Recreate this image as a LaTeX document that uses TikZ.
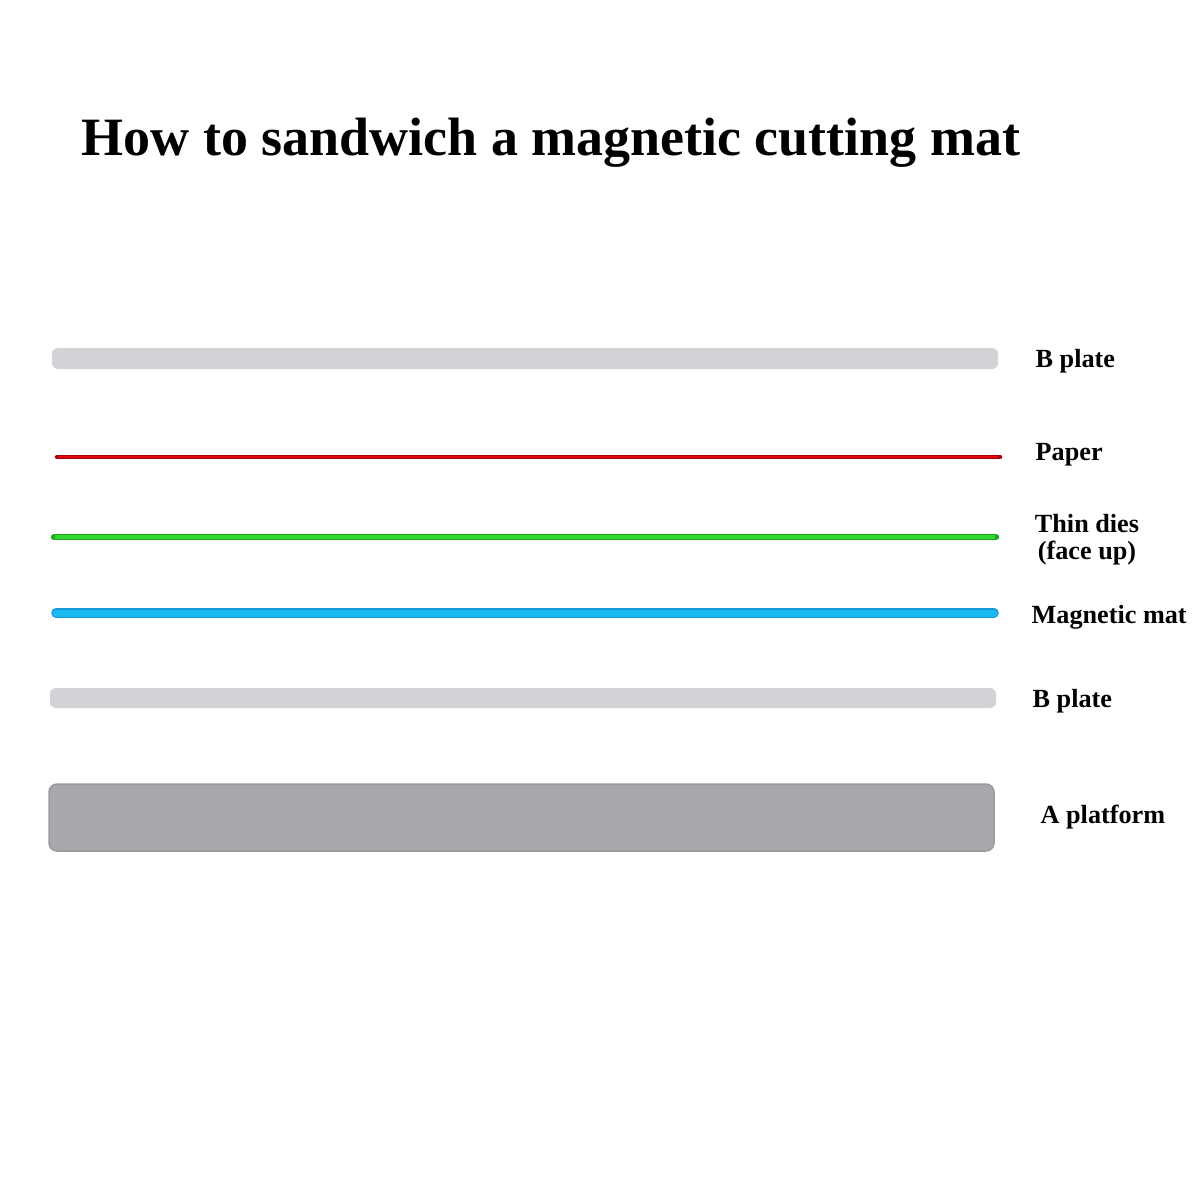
\documentclass[tikz,border=0pt]{standalone}
\usepackage{fontspec}
\setmainfont{Liberation Serif}
\definecolor{bplate}{HTML}{D3D3D7}
\definecolor{aplat}{HTML}{A9A9AD}
\definecolor{aplatedge}{HTML}{9A9A9E}
\definecolor{paperdark}{HTML}{A8000E}
\definecolor{paperred}{HTML}{DD0A14}
\definecolor{diedark}{HTML}{1FA81F}
\definecolor{diegreen}{HTML}{33D633}
\definecolor{matdark}{HTML}{1598D6}
\definecolor{matblue}{HTML}{1CB8F2}
\tikzset{
  lbl/.style={anchor=base west, inner sep=0pt, font=\fontsize{7.45pt}{8.5pt}\selectfont\bfseries},
  ttl/.style={anchor=base, inner sep=0pt, font=\fontsize{15.35pt}{17pt}\selectfont\bfseries},
}
\begin{document}
\begin{tikzpicture}[x=0.01cm,y=-0.01cm]
\fill[white] (0,0) rectangle (1200,1200);
\useasboundingbox (0,0) rectangle (1200,1200);
\node[ttl] (title) at (551,155) {How to sandwich a magnetic cutting mat};
% B plate top
\fill[bplate, rounded corners=1.7pt] (52,348) rectangle (998,369);
% Paper
\draw[paperdark, line width=4.5*0.2845pt, line cap=round] (57,457) -- (1000,457);
\draw[paperred, line width=2*0.2845pt] (58,457) -- (999,457);
% Thin dies
\draw[diedark, line width=6.5*0.2845pt, line cap=round] (54,537) -- (996,537);
\draw[diegreen, line width=3.5*0.2845pt] (55,537) -- (995,537);
% Magnetic mat
\draw[matdark, line width=9.5*0.2845pt, line cap=round] (56,613) -- (994,613);
\draw[matblue, line width=7*0.2845pt, line cap=round] (56,613) -- (994,613);
% B plate bottom
\fill[bplate, rounded corners=1.7pt] (50,688) rectangle (996,708);
% A platform
\draw[aplatedge, fill=aplat, line width=1.5*0.2845pt, rounded corners=2.3pt] (49,784) rectangle (994,851);
% labels
\node[lbl] (l1) at (1035,367) {B plate};
\node[lbl] (l2) at (1035,460) {Paper};
\node[lbl, anchor=base, align=center] (l3) at (1087,559) {Thin dies\\[-1pt](face up)};
\node[lbl] (l4) at (1031,623) {Magnetic mat};
\node[lbl] (l5) at (1032,707) {B plate};
\node[lbl] (l6) at (1040,823) {A platform};
\end{tikzpicture}
\end{document}
